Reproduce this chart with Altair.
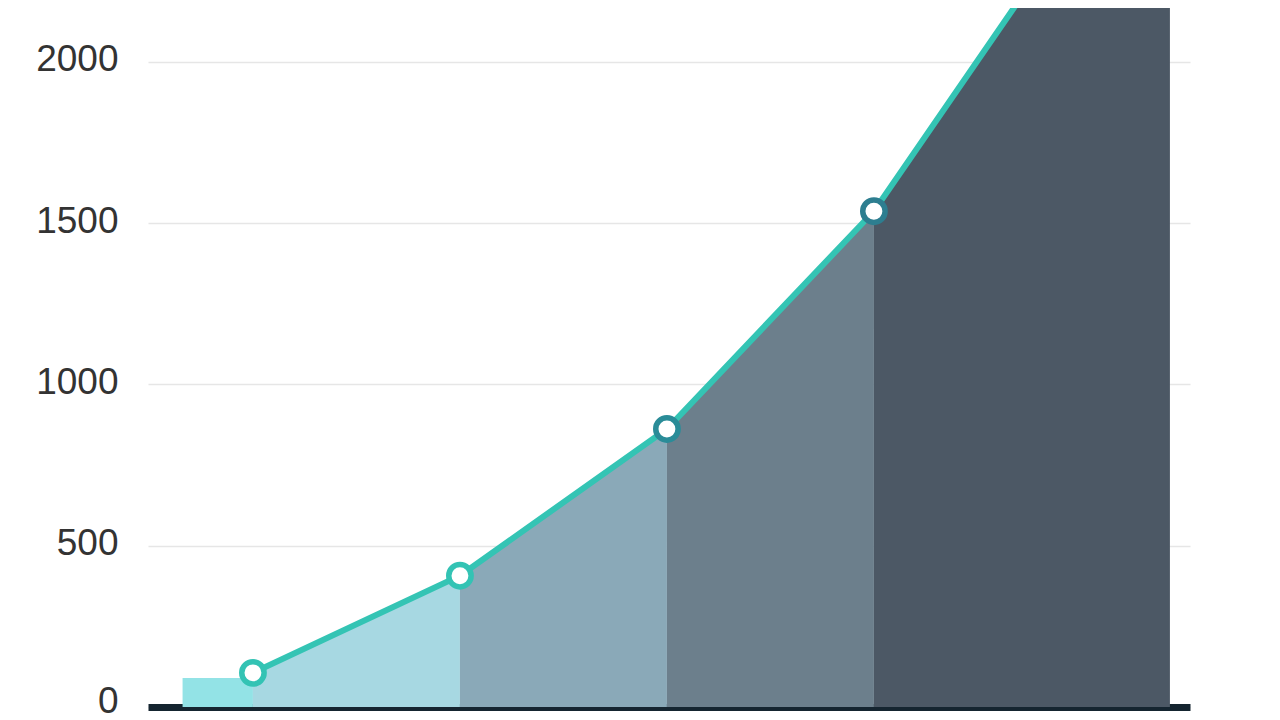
import altair as alt
import pandas as pd

# Data
point_x = [1, 2, 3, 4]
point_values = [106, 407, 862, 1537]
end_x = 5.43
end_value = 2870          # where the last segment leaves the top of the chart
first_bar_start = 0.66
first_bar_value = 90

segments = ["s0", "s1", "s2", "s3", "s4"]
seg_colors = ["#93e3e6", "#a7d8e2", "#8aa9b8", "#6c7f8c", "#4c5865"]
circle_strokes = ["#33c3b4", "#33c3b4", "#2a8c98", "#2d7e90"]
y_ticks = [0, 500, 1000, 1500, 2000]

# Build area table: first flat bar then segments under the line
line_x = point_x + [end_x]
line_y = point_values + [end_value]
area_rows = [
    {"seg": "s0", "x": first_bar_start, "y": first_bar_value},
    {"seg": "s0", "x": point_x[0], "y": first_bar_value},
]
for i in range(len(line_x) - 1):
    area_rows.append({"seg": segments[i + 1], "x": line_x[i], "y": line_y[i]})
    area_rows.append({"seg": segments[i + 1], "x": line_x[i + 1], "y": line_y[i + 1]})
area_df = pd.DataFrame(area_rows)
line_df = pd.DataFrame({"x": line_x, "y": line_y})
pts_df = pd.DataFrame({"x": point_x, "y": point_values, "k": ["p1", "p2", "p3", "p4"]})

xs = alt.Scale(domain=[0.493, 5.527], nice=False, zero=False)
ys = alt.Scale(domain=[0, 2167], nice=False)

x_enc = alt.X("x:Q", scale=xs, axis=alt.Axis(labels=False, ticks=False, grid=False,
                                             title=None, domain=True,
                                             domainColor="#152530", domainWidth=7))
y_axis = alt.Axis(values=y_ticks, title=None, ticks=False, format="d",
                  domain=False, labelFontSize=37,
                  labelOffset={"condition": {"test": "datum.value == 0", "value": -6}, "value": -2},
                  labelColor="#333333", labelPadding=30,
                  labelFont="Liberation Sans",
                  gridColor="#e6e6e6", gridWidth=1.5)

areas = alt.Chart(area_df).mark_area(clip=True, interpolate="linear").encode(
    x=x_enc,
    y=alt.Y("y:Q", scale=ys, stack=None, axis=y_axis),
    color=alt.Color("seg:N", scale=alt.Scale(domain=segments, range=seg_colors), legend=None),
    detail="seg:N",
)

line = alt.Chart(line_df).mark_line(clip=True, color="#34c4b4", strokeWidth=6).encode(
    x=alt.X("x:Q", scale=xs),
    y=alt.Y("y:Q", scale=ys),
)

points = alt.Chart(pts_df).mark_point(filled=False, fill="white", fillOpacity=1,
                                      size=500, strokeWidth=5.5, opacity=1).encode(
    x=alt.X("x:Q", scale=xs),
    y=alt.Y("y:Q", scale=ys),
    stroke=alt.Stroke("k:N", scale=alt.Scale(domain=["p1", "p2", "p3", "p4"],
                                             range=circle_strokes), legend=None),
)

chart = alt.layer(areas, line, points).resolve_scale(color="independent").properties(
    width=1042, height=699,
    autosize=alt.AutoSizeParams(type="none"),
    padding={"left": 140, "top": 0, "right": 10, "bottom": 20},
    background="white",
).configure_view(stroke=None)

chart.save("out.html", embed_options={"renderer": "svg", "actions": False})
